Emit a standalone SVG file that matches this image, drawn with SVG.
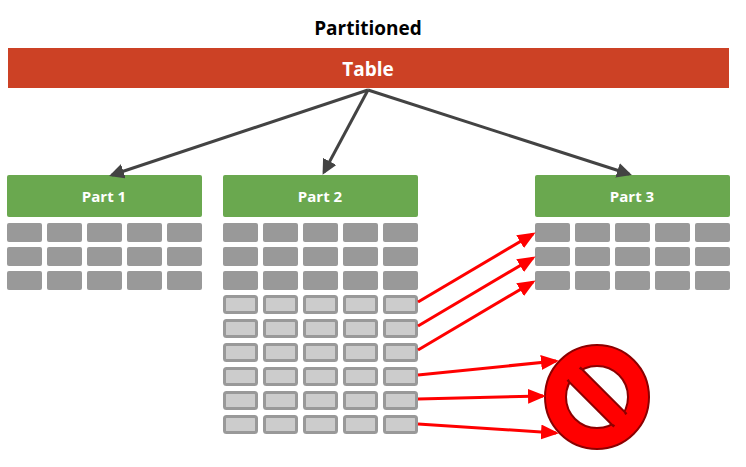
<svg xmlns="http://www.w3.org/2000/svg" width="746" height="467" viewBox="0 0 746 467">
<defs>
<style>
text{font-family:"Open Sans","Liberation Sans",sans-serif;font-weight:bold;text-anchor:middle}
.part{fill:#6aa84f}
.pl{fill:#fff;font-size:15px}
.c{fill:#999;}
.l{fill:#ccc;stroke:#999;stroke-width:3}
.ga{stroke:#434343;stroke-width:3;fill:none;marker-end:url(#ag)}
.ra{stroke:#f00;stroke-width:3;fill:none;marker-end:url(#ar)}
</style>
<marker id="ag" markerWidth="5" markerHeight="5" refX="4" refY="2.5" orient="auto" markerUnits="strokeWidth"><path d="M0,0L5,2.5L0,5z" fill="#434343"/></marker>
<marker id="ar" markerWidth="6" markerHeight="5" refX="5" refY="2.5" orient="auto" markerUnits="strokeWidth"><path d="M0,0L6,2.5L0,5z" fill="#f00"/></marker>
<g id="grid3">
<rect class="c" x="0" y="0" width="35" height="19" rx="2"/><rect class="c" x="40" y="0" width="35" height="19" rx="2"/><rect class="c" x="80" y="0" width="35" height="19" rx="2"/><rect class="c" x="120" y="0" width="35" height="19" rx="2"/><rect class="c" x="160" y="0" width="35" height="19" rx="2"/>
<rect class="c" x="0" y="24" width="35" height="19" rx="2"/><rect class="c" x="40" y="24" width="35" height="19" rx="2"/><rect class="c" x="80" y="24" width="35" height="19" rx="2"/><rect class="c" x="120" y="24" width="35" height="19" rx="2"/><rect class="c" x="160" y="24" width="35" height="19" rx="2"/>
<rect class="c" x="0" y="48" width="35" height="19" rx="2"/><rect class="c" x="40" y="48" width="35" height="19" rx="2"/><rect class="c" x="80" y="48" width="35" height="19" rx="2"/><rect class="c" x="120" y="48" width="35" height="19" rx="2"/><rect class="c" x="160" y="48" width="35" height="19" rx="2"/>
</g>
<g id="lrow">
<rect class="l" x="1.5" y="1.5" width="32" height="16" rx="2"/><rect class="l" x="41.5" y="1.5" width="32" height="16" rx="2"/><rect class="l" x="81.5" y="1.5" width="32" height="16" rx="2"/><rect class="l" x="121.5" y="1.5" width="32" height="16" rx="2"/><rect class="l" x="161.5" y="1.5" width="32" height="16" rx="2"/>
</g>
</defs>
<rect width="746" height="467" fill="#fff"/>
<g id="title"><text x="368" y="35" font-size="19" fill="#000">Partitioned</text></g>
<g id="table"><rect x="8" y="48" width="721" height="40" fill="#cc4125"/><text x="368" y="76" font-size="19" fill="#fff">Table</text></g>
<g id="part1"><rect class="part" x="7" y="175" width="195" height="42" rx="2"/><text class="pl" x="104" y="202">Part 1</text><use href="#grid3" x="7" y="223"/></g>
<g id="part2"><rect class="part" x="223" y="175" width="195" height="42" rx="2"/><text class="pl" x="320" y="202">Part 2</text><use href="#grid3" x="223" y="223"/>
<use href="#lrow" x="223" y="295"/><use href="#lrow" x="223" y="319"/><use href="#lrow" x="223" y="343"/><use href="#lrow" x="223" y="367"/><use href="#lrow" x="223" y="391"/><use href="#lrow" x="223" y="415"/></g>
<g id="part3"><rect class="part" x="535" y="175" width="195" height="42" rx="2"/><text class="pl" x="632" y="202">Part 3</text><use href="#grid3" x="535" y="223"/></g>
<g id="nosign">
<circle cx="597" cy="397" r="52" fill="#f00" stroke="#8b0000" stroke-width="2"/>
<circle cx="597" cy="397" r="31" fill="#fff" stroke="#8b0000" stroke-width="2"/>
<rect x="565" y="388" width="64" height="18" fill="#f00" stroke="#8b0000" stroke-width="2" transform="rotate(45 597 397)"/>
<rect x="563" y="389.5" width="68" height="15" fill="#f00" transform="rotate(45 597 397)"/>
</g>
<g id="connectors">
<path class="ga" d="M368,90L112,175"/>
<path class="ga" d="M368,90L324,172"/>
<path class="ga" d="M368,90L629,174"/>
<path class="ra" d="M418,302L533,234"/>
<path class="ra" d="M418,326L533,258"/>
<path class="ra" d="M418,350L533,282"/>
<path class="ra" d="M418,375L556,361"/>
<path class="ra" d="M418,399L543,396"/>
<path class="ra" d="M418,424L556,433"/>
</g>
</svg>
